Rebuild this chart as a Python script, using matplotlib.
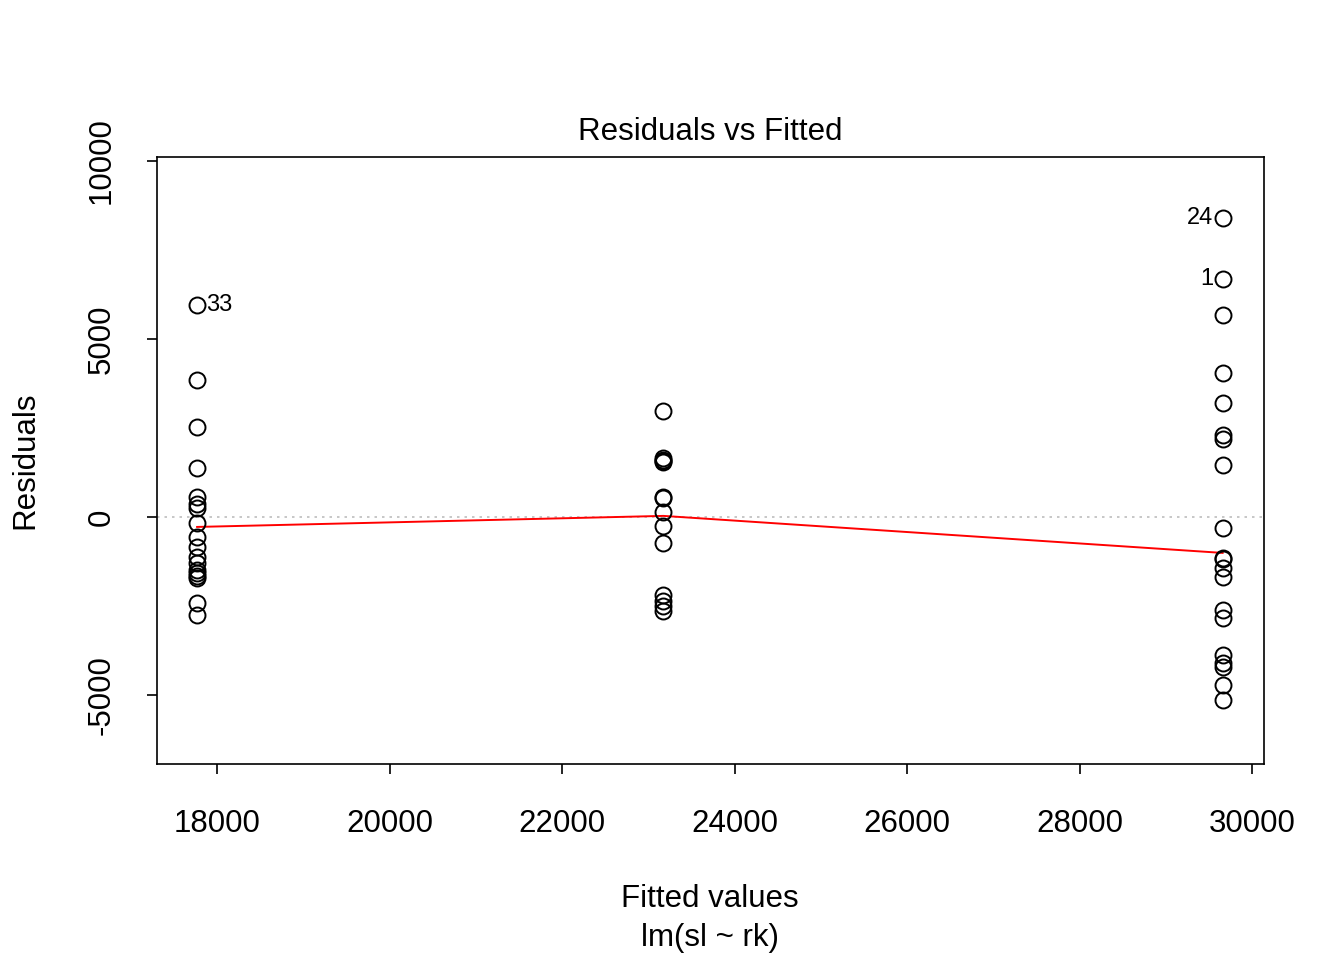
import matplotlib.pyplot as plt

plt.rcParams['font.family'] = ['Liberation Sans', 'DejaVu Sans']

# fitted values by rank (assistant, associate, full)
fit_asst = 17769
fit_assoc = 23176
fit_full = 29659

res_asst = [5945, 3848, 2537, 1385, 570, 365, 244, -177, -553, -834,
            -1115, -1301, -1489, -1580, -1650, -1722, -2424, -2753]
res_assoc = [2986, 1650, 1600, 1550, 1580, 560, 540, 149, -253, -722,
             -2191, -2350, -2500, -2640]
res_full = [8390, 6685, 5674, 4036, 3193, 2300, 2200, 1461, -318, -1150,
            -1180, -1440, -1690, -2612, -2846, -3876, -4110, -4204, -4719, -5140]

# lowess smooth at the three fitted values
smooth_x = [fit_asst, fit_assoc, fit_full]
smooth_y = [-280, 30, -1010]

# labelled extreme points: (fitted, residual, label, side)
labels = [(fit_asst, 5945, '33', 'right'),
          (fit_full, 8390, '24', 'left'),
          (fit_full, 6685, '1', 'left')]

fig = plt.figure(figsize=(13.44, 9.6), dpi=100)
ax = fig.add_axes([0.1168, 0.2042, 0.8237, 0.6323])

xs = [fit_asst] * len(res_asst) + [fit_assoc] * len(res_assoc) + [fit_full] * len(res_full)
ys = res_asst + res_assoc + res_full
ax.plot(xs, ys, 'o', mfc='none', mec='black', ms=11.5, mew=1.4, zorder=3)

ax.axhline(0, color='#bebebe', ls=(0, (1.5, 3)), lw=1.2, zorder=1)
ax.plot(smooth_x, smooth_y, color='red', lw=1.4, zorder=2)

for x, y, t, side in labels:
    dx = 110 if side == 'right' else -110
    ax.text(x + dx, y, t, ha='left' if side == 'right' else 'right',
            va='center', fontsize=17)

ax.set_xlim(17304, 30139)
ax.set_ylim(-6938, 10112)
ax.set_xticks(range(18000, 30001, 2000))
ax.set_yticks([-5000, 0, 5000, 10000])
ax.set_yticklabels(['-5000', '0', '5000', '10000'], rotation=90, va='center')
ax.tick_params(length=7.2, width=1.2, labelsize=22.5)
ax.tick_params(axis='x', pad=25)
ax.tick_params(axis='y', pad=22)
for s in ax.spines.values():
    s.set_linewidth(1.2)

ax.set_title('Residuals vs Fitted', fontsize=22.5, pad=12)
fig.text(710 / 1344, 1 - 899 / 960, 'Fitted values', ha='center', va='center', fontsize=22.5)
fig.text(710 / 1344, 1 - 938 / 960, 'lm(sl ~ rk)', ha='center', va='center', fontsize=22.5)
fig.text(25 / 1344, 1 - 460 / 960, 'Residuals', ha='center', va='center',
         rotation=90, fontsize=22.5)

fig.savefig('out.png', dpi=100)
